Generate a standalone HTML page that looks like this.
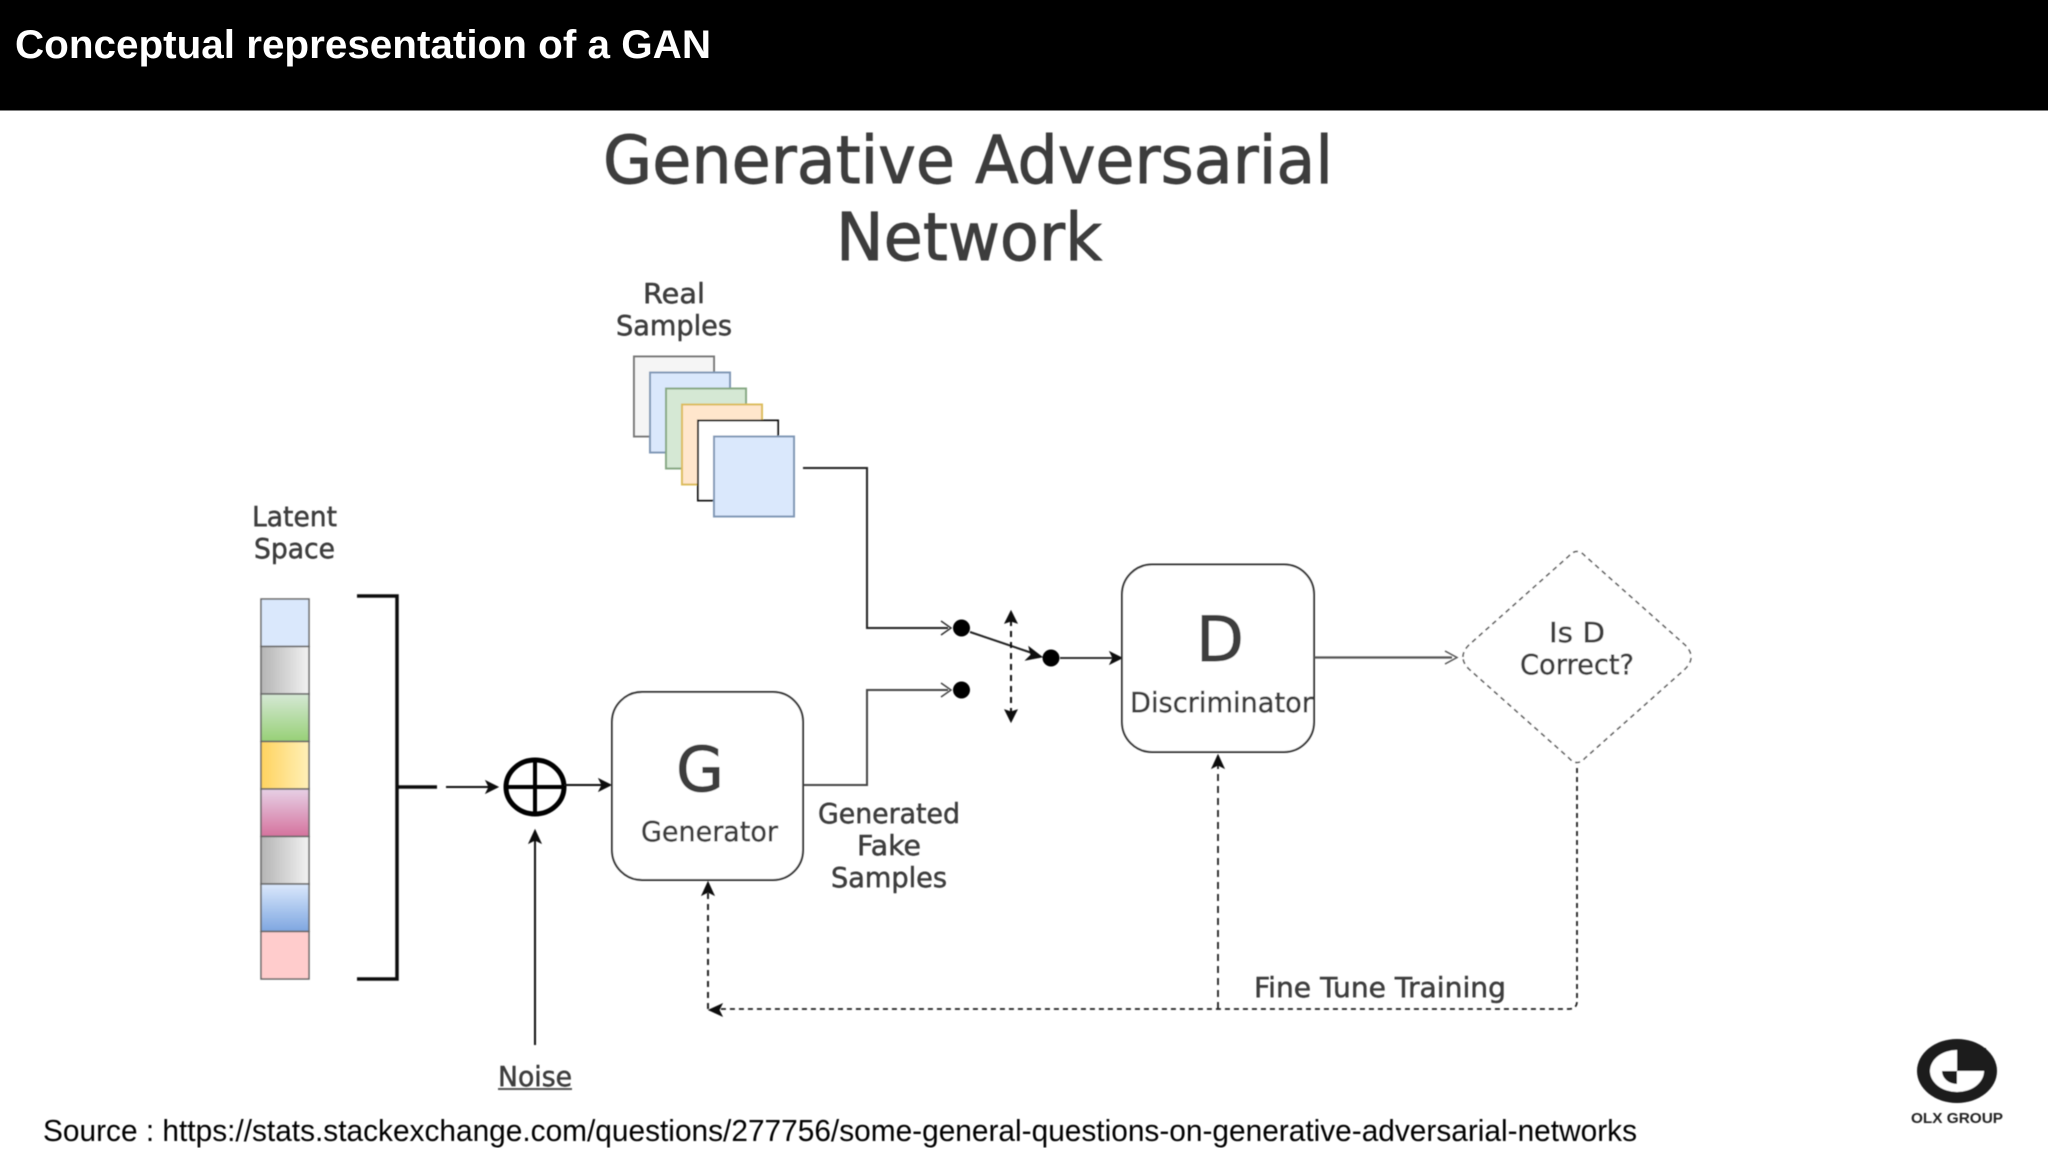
<!DOCTYPE html>
<html>
<head>
<meta charset="utf-8">
<title>Conceptual representation of a GAN</title>
<style>
html,body{margin:0;padding:0;background:#fff;width:2048px;height:1152px;overflow:hidden}
svg{display:block}
.d{font-family:"DejaVu Sans",sans-serif;fill:#3c3c3c;stroke:#3c3c3c;stroke-width:.5px}
.l{font-size:28px}
</style>
</head>
<body>
<svg width="2048" height="1152" viewBox="0 0 2048 1152" xmlns="http://www.w3.org/2000/svg">
<defs>
<linearGradient id="gray" x1="0" x2="1" y1="0" y2="0"><stop offset="0" stop-color="#b4b4b4"/><stop offset="1" stop-color="#f2f2f2"/></linearGradient>
<linearGradient id="green" x1="0" x2="0" y1="0" y2="1"><stop offset="0" stop-color="#d5e8d4"/><stop offset="1" stop-color="#97d077"/></linearGradient>
<linearGradient id="yellow" x1="0" x2="1" y1="0" y2="0"><stop offset="0" stop-color="#ffd35f"/><stop offset="1" stop-color="#fff0b8"/></linearGradient>
<linearGradient id="pink" x1="0" x2="0" y1="0" y2="1"><stop offset="0" stop-color="#e6d0e6"/><stop offset="1" stop-color="#d5739d"/></linearGradient>
<linearGradient id="blue" x1="0" x2="0" y1="0" y2="1"><stop offset="0" stop-color="#dae8fc"/><stop offset="1" stop-color="#7ea6e0"/></linearGradient>
<filter id="soft" x="0" y="0" width="100%" height="100%"><feGaussianBlur stdDeviation="0.55"/></filter>
</defs>
<rect width="2048" height="1152" fill="#fff"/>
<rect x="0" y="0" width="2048" height="110.500" fill="#000"/>
<text x="15" y="58" font-family="'Liberation Sans',sans-serif" font-weight="700" font-size="40" fill="#fff" textLength="696" lengthAdjust="spacingAndGlyphs">Conceptual representation of a GAN</text>

<g filter="url(#soft)">
<text class="d" x="603" y="183" font-size="66" style="stroke-width:.9px" textLength="730" lengthAdjust="spacingAndGlyphs">Generative Adversarial</text>
<text class="d" x="836" y="260" font-size="66" style="stroke-width:.9px" textLength="266" lengthAdjust="spacingAndGlyphs">Network</text>

<text class="d l" x="643" y="303" textLength="62" lengthAdjust="spacingAndGlyphs">Real</text>
<text class="d l" x="616" y="335" textLength="116" lengthAdjust="spacingAndGlyphs">Samples</text>

<g stroke-width="2">
<rect x="634" y="356.500" width="80" height="80" fill="#f5f5f5" stroke="#777"/>
<rect x="650" y="372.500" width="80" height="80" fill="#dae8fc" stroke="#7f97b5"/>
<rect x="666" y="388.500" width="80" height="80" fill="#d5e8d4" stroke="#86a883"/>
<rect x="682" y="404.500" width="80" height="80" fill="#ffe6cc" stroke="#dcbc5a"/>
<rect x="698" y="420.500" width="80" height="80" fill="#fff" stroke="#111"/>
<rect x="714" y="436.500" width="80" height="80" fill="#dae8fc" stroke="#7f97b5"/>
</g>

<text class="d l" x="252" y="526" textLength="85" lengthAdjust="spacingAndGlyphs">Latent</text>
<text class="d l" x="254" y="558" textLength="81" lengthAdjust="spacingAndGlyphs">Space</text>

<g stroke="#666" stroke-width="1.500">
<rect x="261" y="599" width="48" height="47.500" fill="#dae8fc"/>
<rect x="261" y="646.500" width="48" height="47.500" fill="url(#gray)"/>
<rect x="261" y="694" width="48" height="47.500" fill="url(#green)"/>
<rect x="261" y="741.500" width="48" height="47.500" fill="url(#yellow)"/>
<rect x="261" y="789" width="48" height="47.500" fill="url(#pink)"/>
<rect x="261" y="836.500" width="48" height="47.500" fill="url(#gray)"/>
<rect x="261" y="884" width="48" height="47.500" fill="url(#blue)"/>
<rect x="261" y="931.500" width="48" height="47.500" fill="#ffcccc"/>
</g>

<path d="M357 596H397V979H357M397 787H437" fill="none" stroke="#111" stroke-width="3.500"/>
<path d="M446 787H490" stroke="#111" stroke-width="2" fill="none"/>
<polygon points="498,787 486,781 489,787 486,793" fill="#111" stroke="#111"/>
<ellipse cx="535" cy="787" rx="29" ry="27" fill="none" stroke="#000" stroke-width="5"/>
<path d="M506 787H564M535 760V814" stroke="#000" stroke-width="4" fill="none"/>
<path d="M564 785H604" stroke="#111" stroke-width="2" fill="none"/>
<polygon points="611,785 599,779 602,785 599,791" fill="#111" stroke="#111"/>
<path d="M535 1045V840" stroke="#111" stroke-width="2" fill="none"/>
<polygon points="535,830 529,843 535,840 541,843" fill="#111" stroke="#111"/>
<text class="d l" x="498" y="1086" textLength="74" lengthAdjust="spacingAndGlyphs">Noise</text>
<rect x="498" y="1088" width="74" height="2" fill="#555"/>

<rect x="612" y="692" width="191" height="188" rx="30" ry="30" fill="#fff" stroke="#333" stroke-width="2"/>
<text class="d" x="700" y="791" font-size="62" text-anchor="middle" style="stroke-width:.9px">G</text>
<text class="d l" x="641" y="841" textLength="137" lengthAdjust="spacingAndGlyphs">Generator</text>

<path d="M803 785H867V690H948" fill="none" stroke="#444" stroke-width="2"/>
<path d="M941 683L951 690L941 697" fill="none" stroke="#444" stroke-width="1.500"/>
<path d="M803 468H867V628H948" fill="none" stroke="#222" stroke-width="2"/>
<path d="M941 621L951 628L941 635" fill="none" stroke="#333" stroke-width="1.500"/>
<circle cx="961.500" cy="628" r="8.500" fill="#000"/>
<circle cx="961.500" cy="690" r="8.500" fill="#000"/>
<circle cx="1051" cy="658" r="8.500" fill="#000"/>
<path d="M970 632L1035 654" stroke="#222" stroke-width="2" fill="none"/>
<polygon points="1042,657 1029,647 1031,655 1026,660" fill="#111" stroke="#111"/>
<path d="M1011 620V714" stroke="#111" stroke-width="2" stroke-dasharray="6 5" fill="none"/>
<polygon points="1011,611 1005,623 1011,621 1017,623" fill="#111" stroke="#111"/>
<polygon points="1011,722 1005,710 1011,712 1017,710" fill="#111" stroke="#111"/>
<path d="M1060 658H1115" stroke="#333" stroke-width="2" fill="none"/>
<polygon points="1122,658 1110,652 1113,658 1110,664" fill="#111" stroke="#111"/>

<text class="d l" x="818" y="823" textLength="142" lengthAdjust="spacingAndGlyphs">Generated</text>
<text class="d l" x="857" y="855" textLength="64" lengthAdjust="spacingAndGlyphs">Fake</text>
<text class="d l" x="831" y="887" textLength="116" lengthAdjust="spacingAndGlyphs">Samples</text>

<rect x="1122" y="564.500" width="192" height="187.500" rx="30" ry="30" fill="#fff" stroke="#333" stroke-width="2"/>
<text class="d" x="1220" y="661" font-size="62" text-anchor="middle" style="stroke-width:.9px">D</text>
<text class="d l" x="1130" y="712" textLength="183" lengthAdjust="spacingAndGlyphs">Discriminator</text>

<path d="M1314 657.500H1452" stroke="#555" stroke-width="2.200" fill="none"/>
<path d="M1445 651L1457 657.500L1445 664" fill="none" stroke="#555" stroke-width="1.500"/>

<path d="M1463 657Q1463 651 1469 645L1569 556Q1577 547 1585 556L1685 645Q1691 651 1691 657Q1691 663 1685 669L1585 758Q1577 767 1569 758L1469 669Q1463 663 1463 657Z" fill="#fff" stroke="#555" stroke-width="1.500" stroke-dasharray="5 4"/>
<text class="d l" x="1549" y="642" textLength="56" lengthAdjust="spacingAndGlyphs">Is D</text>
<text class="d l" x="1520" y="674" textLength="114" lengthAdjust="spacingAndGlyphs">Correct?</text>

<path d="M1577 768V1001Q1577 1009 1569 1009H716" fill="none" stroke="#222" stroke-width="1.800" stroke-dasharray="5 4"/>
<path d="M1218 1009V764" fill="none" stroke="#222" stroke-width="1.800" stroke-dasharray="7 5"/>
<polygon points="1218,755 1212,768 1218,765 1224,768" fill="#111" stroke="#111"/>
<path d="M708 1009V892" fill="none" stroke="#222" stroke-width="2" stroke-dasharray="6 5"/>
<polygon points="708,882 702,895 708,892 714,895" fill="#111" stroke="#111"/>
<polygon points="709,1010 722,1004 719,1010 722,1016" fill="#111" stroke="#111"/>
<text class="d l" x="1254" y="997" textLength="252" lengthAdjust="spacingAndGlyphs">Fine Tune Training</text>

<text x="43" y="1141" font-family="'Liberation Sans',sans-serif" font-size="31" fill="#000" textLength="1594" lengthAdjust="spacingAndGlyphs">Source : https://stats.stackexchange.com/questions/277756/some-general-questions-on-generative-adversarial-networks</text>

<ellipse cx="1957" cy="1071" rx="40" ry="32" fill="#1a1a1a"/>
<ellipse cx="1957" cy="1071" rx="27" ry="21" fill="#fff"/>
<path d="M1957 1071V1048H1986V1071Z" fill="#1a1a1a"/>
<path d="M1942 1071H1957V1084A15 13 0 0 1 1942 1071Z" fill="#1a1a1a"/>
<text x="1911" y="1123" font-family="'Liberation Sans',sans-serif" font-size="14.500" font-weight="700" fill="#222" textLength="92" lengthAdjust="spacingAndGlyphs">OLX GROUP</text>
</g>
</svg>
</body>
</html>
